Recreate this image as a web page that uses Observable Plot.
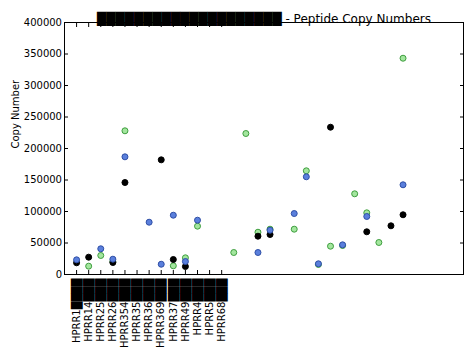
<!DOCTYPE html>
<html>
<head>
<meta charset="utf-8">
<script src="https://cdn.jsdelivr.net/npm/d3@7"></script>
<script src="https://cdn.jsdelivr.net/npm/@observablehq/plot@0.6"></script>
<style>
  html, body { margin: 0; padding: 0; background: white; }
</style>
</head>
<body>
<div id="chart"></div>
<script>
// ---- Data ----
const titleRedacted = "████████████████████";
const titleText = " - Peptide Copy Numbers";
const yLabel = "Copy Number";

// Tick positions and (partly redacted) tick labels
const tickPositions = [1, 2, 3, 4, 5, 6, 7, 8, 9, 10, 11, 12, 13];
const tickStems = ["HPRR1", "HPRR14", "HPRR25", "HPRR26", "HPRR354", "HPRR35", "HPRR36", "HPRR369", "HPRR37", "HPRR49", "HPRR4", "HPRR5", "HPRR68"];
const tickRedactions = ["████", "███", "███", "███", "███", "███", "███", "███", "███", "███", "███", "███", "███"];

const yTicks = [0, 50000, 100000, 150000, 200000, 250000, 300000, 350000, 400000];

// Sample positions along x
const xIndex = [1, 2, 3, 4, 5, 6, 7, 8, 9, 10, 11, 12, 13, 14, 15, 16, 17, 18, 19, 20, 21, 22, 23, 24, 25, 26, 27, 28];
const greenValues = [null, 13200, 30200, 20600, 228100, null, null, null, 13800, 26500, 76700, null, null, 34900, 223800, 67100, 71900, null, 71900, 164600, 15900, 44900, 46000, 128100, 97900, 50800, null, 343300];
const blackValues = [18600, 27500, null, 19000, 146000, null, null, 182000, 23800, 12700, null, null, null, null, null, 60800, 63500, null, null, null, null, 233800, null, null, 67800, null, 77300, 94800];
const blueValues = [23300, null, 40800, 24300, 186800, null, 83000, 16300, 94100, 20600, 86200, null, null, null, null, 34900, 70300, null, 96800, 155100, 17000, null, 47100, null, 92100, null, null, 142400];

// ---- Build ----
const rows = vals => xIndex.map((x, i) => ({x, v: vals[i]})).filter(d => d.v != null);
const tickLabels = tickStems.map((s, i) => s + tickRedactions[i]);
const labelOf = new Map(tickPositions.map((p, i) => [p, tickLabels[i]]));

const chart = Plot.plot({
  width: 474,
  height: 357,
  marginTop: 22,
  marginBottom: 83,
  marginLeft: 64,
  marginRight: 11,
  style: {fontFamily: "'DejaVu Sans', sans-serif", fontSize: "10px", background: "white", color: "black"},
  x: {type: "linear", domain: [0, 33]},
  y: {domain: [0, 400000]},
  marks: [
    Plot.frame({stroke: "black", strokeWidth: 1}),
    Plot.axisX({anchor: "bottom", ticks: tickPositions, tickSize: -4, tickPadding: 8, tickRotate: -90,
      tickFormat: d => labelOf.get(d), label: null, fontSize: 10}),
    Plot.axisX({anchor: "top", ticks: tickPositions, tickSize: -4, tickFormat: () => "", label: null}),
    Plot.axisY({anchor: "left", ticks: yTicks, tickSize: -4, tickPadding: 6.5, tickFormat: d => String(d), label: null, fontSize: 10}),
    Plot.axisY({anchor: "right", ticks: yTicks, tickSize: -4, tickFormat: () => "", label: null}),
    Plot.dot(rows(greenValues), {x: "x", y: "v", r: 3, fill: "#a3e69e", stroke: "#3f9e3f", strokeWidth: 1}),
    Plot.dot(rows(blackValues), {x: "x", y: "v", r: 3, fill: "black", stroke: "black", strokeWidth: 1}),
    Plot.dot(rows(blueValues), {x: "x", y: "v", r: 3, fill: "#5a7fdc", stroke: "#2f4fa6", strokeWidth: 1}),
    Plot.text([titleRedacted + titleText], {frameAnchor: "top", dy: -8, fontSize: 12, text: d => d, fill: "black"}),
    Plot.text([yLabel], {frameAnchor: "left", dx: -49, rotate: -90, fontSize: 10, text: d => d, fill: "black"})
  ]
});
document.getElementById("chart").appendChild(chart);
</script>
</body>
</html>
